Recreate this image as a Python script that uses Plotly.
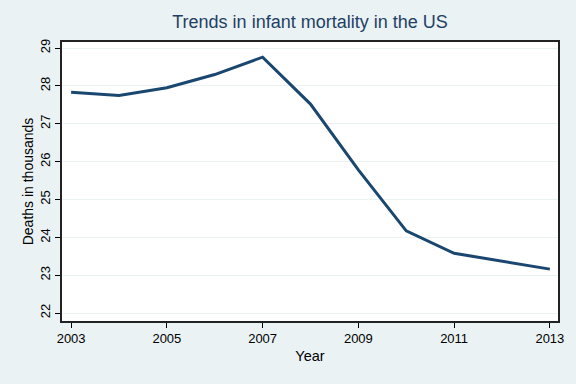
import plotly.graph_objects as go

years = [2003, 2004, 2005, 2006, 2007, 2008, 2009, 2010, 2011, 2012, 2013]
deaths = [27.83, 27.75, 27.95, 28.30, 28.76, 27.52, 25.78, 24.17, 23.58, 23.38, 23.16]
x_ticks = [2003, 2005, 2007, 2009, 2011, 2013]
y_ticks = [22, 23, 24, 25, 26, 27, 28, 29]

fig = go.Figure()
fig.add_trace(go.Scatter(x=years, y=deaths, mode="lines",
                         line=dict(color="#1A476F", width=3), showlegend=False))

fig.update_layout(
    width=576, height=384,
    paper_bgcolor="#EAF2F3", plot_bgcolor="#FFFFFF",
    margin=dict(l=62, r=13, t=42, b=63),
    font=dict(family="Liberation Sans, Arial, sans-serif", color="#000000", size=13),
    title=dict(text="Trends in infant mortality in the US", x=0.5, xref="paper",
               y=1 - 22/384, yanchor="middle",
               font=dict(size=18, color="#1E3F66")),
)
fig.update_xaxes(range=[2002.81, 2013.17], tickvals=x_ticks, ticktext=[str(v) for v in x_ticks],
                 ticks="outside", ticklen=5, tickcolor="#000000", showgrid=False,
                 showline=True, linecolor="#222222", linewidth=1.5, mirror=True,
                 title=dict(text="Year", font=dict(size=14.5), standoff=6), zeroline=False,
                 tickfont=dict(size=13))
fig.update_yaxes(range=[21.79, 29.16], tickvals=y_ticks, ticktext=[str(v) for v in y_ticks],
                 ticks="outside", ticklen=5, tickcolor="#000000", tickangle=-90,
                 showgrid=True, gridcolor="#EAF2F3", gridwidth=1,
                 showline=True, linecolor="#222222", linewidth=1.5, mirror=True,
                 title=dict(text="Deaths in thousands", font=dict(size=14), standoff=1), zeroline=False,
                 tickfont=dict(size=13))

fig.write_html("out.html", config={"displayModeBar": False},
               post_script="document.body.style.margin='0';")
